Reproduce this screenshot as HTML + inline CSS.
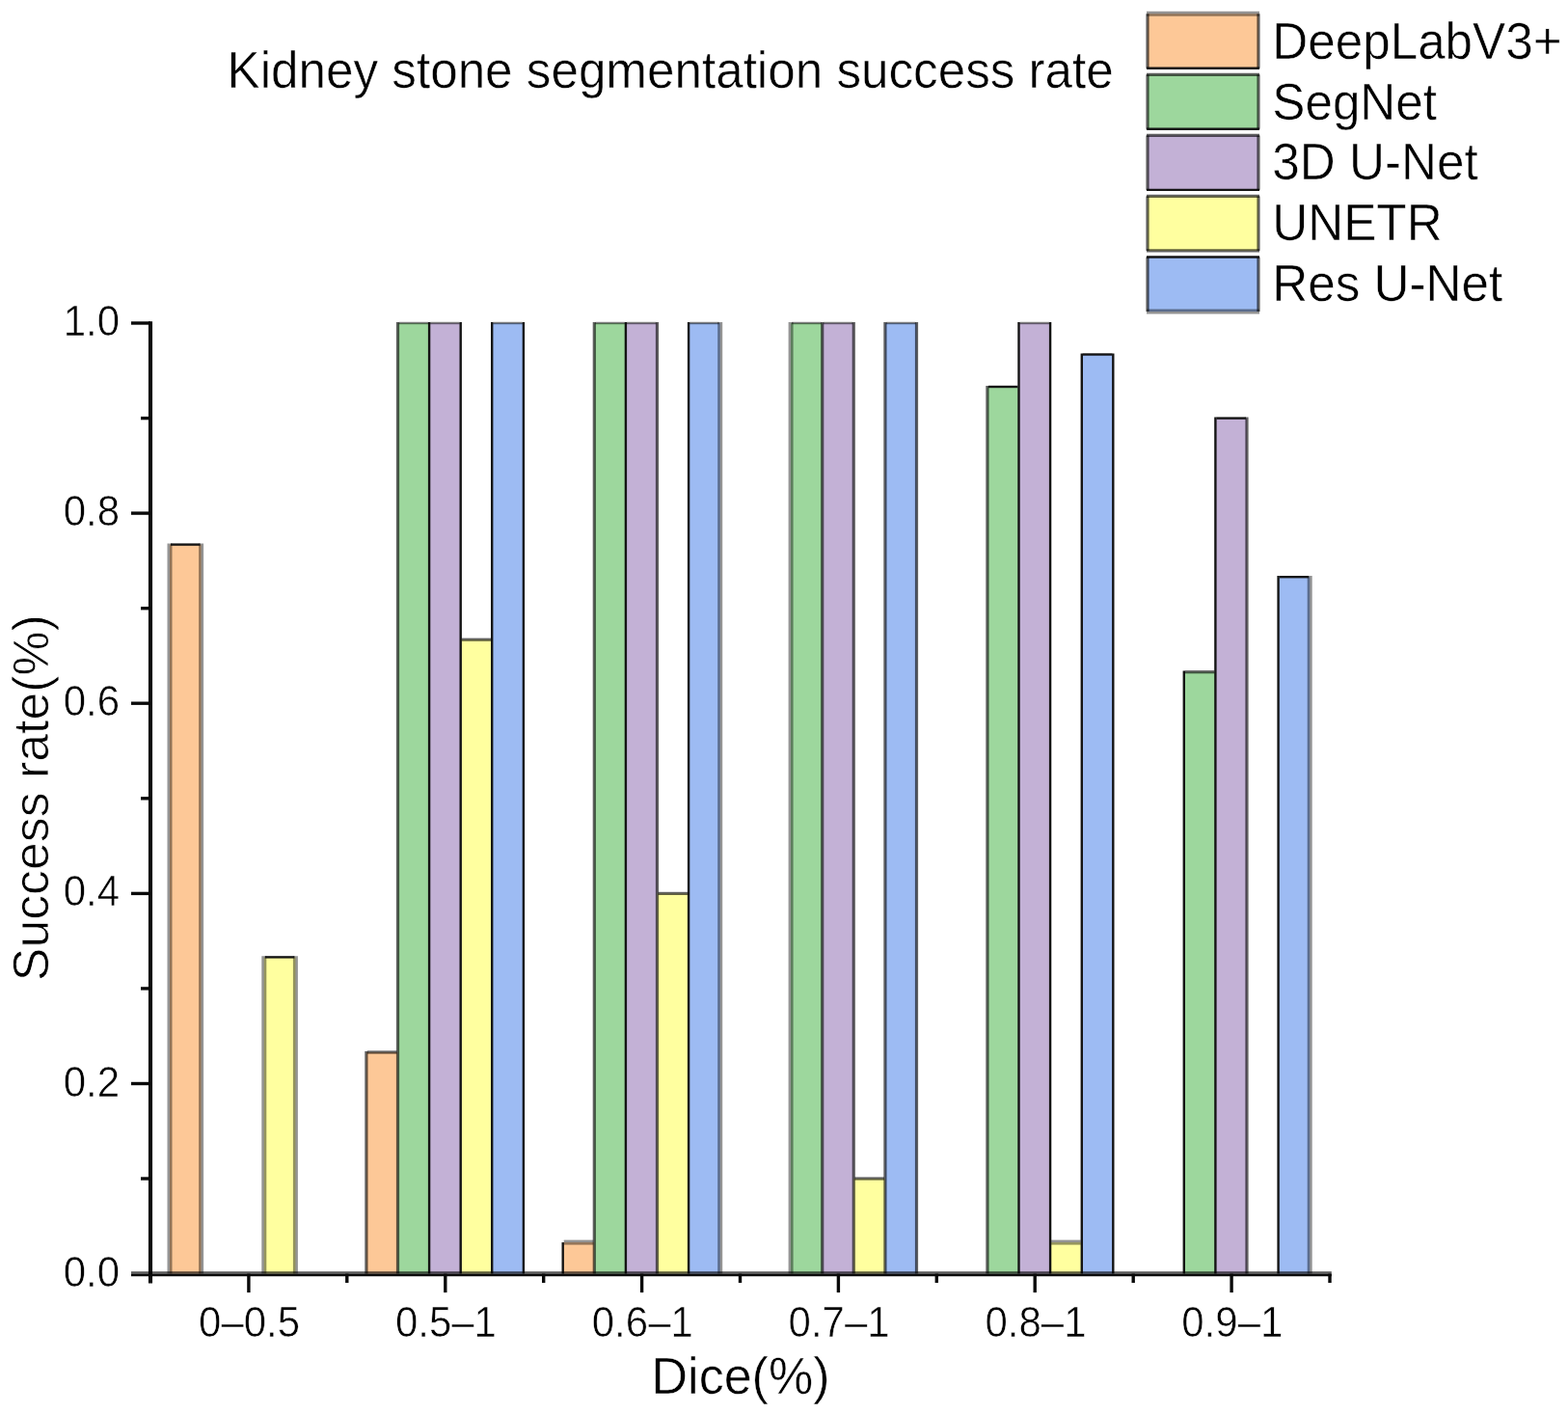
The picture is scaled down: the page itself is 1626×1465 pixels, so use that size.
<!DOCTYPE html>
<html lang="en"><head><meta charset="utf-8"><title>Kidney stone segmentation success rate</title>
<style>html,body{margin:0;padding:0;background:#fff;}body{width:1626px;height:1465px;overflow:hidden;}svg{display:block;filter:blur(0.55px);}text{font-family:"Liberation Sans",sans-serif;fill:#000;}</style>
</head><body>
<svg width="1626" height="1465" viewBox="0 0 1626 1465">
<rect x="0" y="0" width="1626" height="1465" fill="#fff"/>
<g stroke="none">
<rect x="176.0" y="564.6" width="32.6" height="756.0" fill="#fdc897"/>
<rect x="273.8" y="992.4" width="32.6" height="328.2" fill="#ffff9f"/>
<rect x="379.9" y="1091.0" width="32.6" height="229.6" fill="#fdc897"/>
<rect x="412.5" y="335.0" width="32.6" height="985.6" fill="#9dd79d"/>
<rect x="445.1" y="335.0" width="32.6" height="985.6" fill="#c3b1d6"/>
<rect x="477.7" y="663.2" width="32.6" height="657.4" fill="#ffff9f"/>
<rect x="510.2" y="335.0" width="32.6" height="985.6" fill="#9dbbf3"/>
<rect x="583.7" y="1288.1" width="32.6" height="32.5" fill="#fdc897"/>
<rect x="616.3" y="335.0" width="32.6" height="985.6" fill="#9dd79d"/>
<rect x="648.9" y="335.0" width="32.6" height="985.6" fill="#c3b1d6"/>
<rect x="681.5" y="926.4" width="32.6" height="394.2" fill="#ffff9f"/>
<rect x="714.1" y="335.0" width="32.6" height="985.6" fill="#9dbbf3"/>
<rect x="820.1" y="335.0" width="32.6" height="985.6" fill="#9dd79d"/>
<rect x="852.7" y="335.0" width="32.6" height="985.6" fill="#c3b1d6"/>
<rect x="885.3" y="1222.0" width="32.6" height="98.6" fill="#ffff9f"/>
<rect x="917.9" y="335.0" width="32.6" height="985.6" fill="#9dbbf3"/>
<rect x="1023.9" y="401.0" width="32.6" height="919.6" fill="#9dd79d"/>
<rect x="1056.5" y="335.0" width="32.6" height="985.6" fill="#c3b1d6"/>
<rect x="1089.1" y="1288.1" width="32.6" height="32.5" fill="#ffff9f"/>
<rect x="1121.8" y="367.5" width="32.6" height="953.1" fill="#9dbbf3"/>
<rect x="1227.8" y="696.7" width="32.6" height="623.9" fill="#9dd79d"/>
<rect x="1260.4" y="433.6" width="32.6" height="887.0" fill="#c3b1d6"/>
<rect x="1325.6" y="598.2" width="32.6" height="722.4" fill="#9dbbf3"/>
</g>
<g fill="none">
<path stroke="rgba(0,0,0,0.42)" stroke-width="5.0" d="M176.0 563.5 V1320.6"/>
<path stroke="rgba(0,0,0,0.42)" stroke-width="5.0" d="M208.6 563.5 V1320.6"/>
<path stroke="rgba(0,0,0,0.42)" stroke-width="5.0" d="M273.8 991.3 V1320.6"/>
<path stroke="rgba(0,0,0,0.42)" stroke-width="5.0" d="M306.4 991.3 V1320.6"/>
<path stroke="#141414" stroke-width="2.4" d="M177.0 564.6 H207.6"/>
<path stroke="#141414" stroke-width="2.4" d="M274.8 992.4 H305.4"/>
<path stroke="rgba(0,0,0,0.62)" stroke-width="3.2" d="M379.9 1089.9 V1320.6"/>
<path stroke="rgba(0,0,0,0.62)" stroke-width="3.2" d="M412.5 333.9 V1320.6"/>
<path stroke="#141414" stroke-width="2.4" d="M445.1 333.9 V1320.6"/>
<path stroke="#141414" stroke-width="2.4" d="M477.7 333.9 V1320.6"/>
<path stroke="#141414" stroke-width="2.4" d="M510.2 333.9 V1320.6"/>
<path stroke="#141414" stroke-width="2.4" d="M542.9 333.9 V1320.6"/>
<path stroke="rgba(0,0,0,0.62)" stroke-width="3.2" d="M380.9 1091.0 H411.5"/>
<path stroke="rgba(0,0,0,0.5)" stroke-width="2.4" d="M413.5 335.0 H444.1"/>
<path stroke="rgba(0,0,0,0.5)" stroke-width="2.4" d="M446.1 335.0 H476.7"/>
<path stroke="rgba(0,0,0,0.62)" stroke-width="3.2" d="M478.7 663.2 H509.3"/>
<path stroke="rgba(0,0,0,0.5)" stroke-width="2.4" d="M511.2 335.0 H541.9"/>
<path stroke="#141414" stroke-width="2.4" d="M583.7 1288.1 V1320.6"/>
<path stroke="rgba(0,0,0,0.62)" stroke-width="3.2" d="M616.3 333.9 V1320.6"/>
<path stroke="#141414" stroke-width="2.4" d="M648.9 333.9 V1320.6"/>
<path stroke="rgba(0,0,0,0.62)" stroke-width="3.2" d="M681.5 333.9 V1320.6"/>
<path stroke="#141414" stroke-width="2.4" d="M714.1 333.9 V1320.6"/>
<path stroke="rgba(0,0,0,0.42)" stroke-width="5.0" d="M746.7 333.9 V1320.6"/>
<path stroke="rgba(0,0,0,0.42)" stroke-width="5.0" d="M584.7 1288.1 H615.3"/>
<path stroke="rgba(0,0,0,0.5)" stroke-width="2.4" d="M617.3 335.0 H647.9"/>
<path stroke="rgba(0,0,0,0.5)" stroke-width="2.4" d="M649.9 335.0 H680.5"/>
<path stroke="rgba(0,0,0,0.62)" stroke-width="3.2" d="M682.5 926.4 H713.1"/>
<path stroke="rgba(0,0,0,0.5)" stroke-width="2.4" d="M715.1 335.0 H745.7"/>
<path stroke="rgba(0,0,0,0.42)" stroke-width="5.0" d="M820.1 333.9 V1320.6"/>
<path stroke="rgba(0,0,0,0.62)" stroke-width="3.2" d="M852.7 333.9 V1320.6"/>
<path stroke="rgba(0,0,0,0.62)" stroke-width="3.2" d="M885.3 333.9 V1320.6"/>
<path stroke="rgba(0,0,0,0.62)" stroke-width="3.2" d="M917.9 333.9 V1320.6"/>
<path stroke="rgba(0,0,0,0.62)" stroke-width="3.2" d="M950.5 333.9 V1320.6"/>
<path stroke="rgba(0,0,0,0.5)" stroke-width="2.4" d="M821.1 335.0 H851.7"/>
<path stroke="rgba(0,0,0,0.5)" stroke-width="2.4" d="M853.7 335.0 H884.3"/>
<path stroke="rgba(0,0,0,0.62)" stroke-width="3.2" d="M886.3 1222.0 H916.9"/>
<path stroke="rgba(0,0,0,0.5)" stroke-width="2.4" d="M918.9 335.0 H949.5"/>
<path stroke="rgba(0,0,0,0.62)" stroke-width="3.2" d="M1023.9 399.9 V1320.6"/>
<path stroke="#141414" stroke-width="2.4" d="M1056.5 333.9 V1320.6"/>
<path stroke="#141414" stroke-width="2.4" d="M1089.1 333.9 V1320.6"/>
<path stroke="#141414" stroke-width="2.4" d="M1121.8 366.4 V1320.6"/>
<path stroke="#141414" stroke-width="2.4" d="M1154.3 366.4 V1320.6"/>
<path stroke="#141414" stroke-width="2.4" d="M1024.9 401.0 H1055.5"/>
<path stroke="rgba(0,0,0,0.5)" stroke-width="2.4" d="M1057.5 335.0 H1088.1"/>
<path stroke="rgba(0,0,0,0.42)" stroke-width="5.0" d="M1090.1 1288.1 H1120.7"/>
<path stroke="#141414" stroke-width="2.4" d="M1122.8 367.5 H1153.3"/>
<path stroke="#141414" stroke-width="2.4" d="M1227.8 695.6 V1320.6"/>
<path stroke="#141414" stroke-width="2.4" d="M1260.4 432.5 V1320.6"/>
<path stroke="rgba(0,0,0,0.62)" stroke-width="3.2" d="M1293.0 432.5 V1320.6"/>
<path stroke="#141414" stroke-width="2.4" d="M1325.6 597.1 V1320.6"/>
<path stroke="rgba(0,0,0,0.42)" stroke-width="5.0" d="M1358.2 597.1 V1320.6"/>
<path stroke="rgba(0,0,0,0.62)" stroke-width="3.2" d="M1228.8 696.7 H1259.4"/>
<path stroke="#141414" stroke-width="2.4" d="M1261.4 433.6 H1292.0"/>
<path stroke="#141414" stroke-width="2.4" d="M1326.6 598.2 H1357.2"/>
</g>
<g stroke="#0a0a0a" stroke-width="4" fill="none">
<path stroke-width="4.1" d="M156.0 333.2 V1330.6"/>
<path stroke="rgba(0,0,0,0.64)" stroke-width="2.7" d="M136.0 1319.6 H1380.8"/>
<path stroke-width="2.3" d="M136.0 1322.1 H1380.8"/>
<path stroke-width="3.4" d="M146.0 1222.0 H156.0"/>
<path stroke-width="3.4" d="M136.0 1123.5 H156.0"/>
<path stroke-width="3.4" d="M146.0 1024.9 H156.0"/>
<path stroke-width="3.4" d="M136.0 926.4 H156.0"/>
<path stroke-width="3.4" d="M146.0 827.8 H156.0"/>
<path stroke-width="3.4" d="M136.0 729.2 H156.0"/>
<path stroke-width="3.4" d="M146.0 630.7 H156.0"/>
<path stroke-width="3.4" d="M136.0 532.1 H156.0"/>
<path stroke-width="3.4" d="M146.0 433.6 H156.0"/>
<path stroke-width="3.4" d="M136.0 335.0 H156.0"/>
<path stroke-width="3.4" d="M257.9 1320.6 V1340.1"/>
<path stroke-width="3.4" d="M359.8 1320.6 V1330.1"/>
<path stroke-width="3.4" d="M461.8 1320.6 V1340.1"/>
<path stroke-width="3.4" d="M563.7 1320.6 V1330.1"/>
<path stroke-width="3.4" d="M665.6 1320.6 V1340.1"/>
<path stroke-width="3.4" d="M767.5 1320.6 V1330.1"/>
<path stroke-width="3.4" d="M869.4 1320.6 V1340.1"/>
<path stroke-width="3.4" d="M971.3 1320.6 V1330.1"/>
<path stroke-width="3.4" d="M1073.2 1320.6 V1340.1"/>
<path stroke-width="3.4" d="M1175.2 1320.6 V1330.1"/>
<path stroke-width="3.4" d="M1277.1 1320.6 V1340.1"/>
<path stroke-width="3.4" d="M1379.0 1320.6 V1330.1"/>
</g>
<g font-size="42" text-anchor="end" stroke="#fff" stroke-width="0.55">
<text transform="translate(124 1333.6) scale(1 1.05)">0.0</text>
<text transform="translate(124 1136.5) scale(1 1.05)">0.2</text>
<text transform="translate(124 939.4) scale(1 1.05)">0.4</text>
<text transform="translate(124 742.2) scale(1 1.05)">0.6</text>
<text transform="translate(124 545.1) scale(1 1.05)">0.8</text>
<text transform="translate(124 348.0) scale(1 1.05)">1.0</text>
</g>
<g font-size="42" text-anchor="middle" stroke="#fff" stroke-width="0.55">
<text transform="translate(258.6 1386.1) scale(1 1.045)">0–0.5</text>
<text transform="translate(462.4 1386.1) scale(1 1.045)">0.5–1</text>
<text transform="translate(666.3 1386.1) scale(1 1.045)">0.6–1</text>
<text transform="translate(870.1 1386.1) scale(1 1.045)">0.7–1</text>
<text transform="translate(1074.0 1386.1) scale(1 1.045)">0.8–1</text>
<text transform="translate(1277.8 1386.1) scale(1 1.045)">0.9–1</text>
</g>
<text font-size="52" text-anchor="middle" stroke="#fff" stroke-width="0.5" transform="translate(768 1444.6) scale(1 1.02)">Dice(%)</text>
<text font-size="51.8" text-anchor="middle" stroke="#fff" stroke-width="0.8" transform="translate(49.8 827.2) rotate(-90) scale(1 0.99)">Success rate(%)</text>
<text font-size="51.2" stroke="#fff" stroke-width="0.5" transform="translate(235.6 90.8) scale(1 1.03)">Kidney stone segmentation success rate</text>
<g>
<rect x="1190.0" y="14.3" width="115.0" height="56.5" fill="#fdc897"/>
<path fill="none" stroke="rgba(0,0,0,0.42)" stroke-width="5.0" d="M1189.0 14.3 H1306.0"/>
<path fill="none" stroke="#141414" stroke-width="2.4" d="M1189.0 70.8 H1306.0"/>
<path fill="none" stroke="rgba(0,0,0,0.62)" stroke-width="3.2" d="M1190.0 14.3 V70.8"/>
<path fill="none" stroke="rgba(0,0,0,0.62)" stroke-width="3.2" d="M1305.0 14.3 V70.8"/>
<rect x="1190.0" y="77.3" width="115.0" height="56.5" fill="#9dd79d"/>
<path fill="none" stroke="rgba(0,0,0,0.62)" stroke-width="3.2" d="M1189.0 77.3 H1306.0"/>
<path fill="none" stroke="#141414" stroke-width="2.4" d="M1189.0 133.8 H1306.0"/>
<path fill="none" stroke="rgba(0,0,0,0.62)" stroke-width="3.2" d="M1190.0 77.3 V133.8"/>
<path fill="none" stroke="rgba(0,0,0,0.62)" stroke-width="3.2" d="M1305.0 77.3 V133.8"/>
<rect x="1190.0" y="140.4" width="115.0" height="56.5" fill="#c3b1d6"/>
<path fill="none" stroke="rgba(0,0,0,0.62)" stroke-width="3.2" d="M1189.0 140.4 H1306.0"/>
<path fill="none" stroke="#141414" stroke-width="2.4" d="M1189.0 196.9 H1306.0"/>
<path fill="none" stroke="rgba(0,0,0,0.62)" stroke-width="3.2" d="M1190.0 140.4 V196.9"/>
<path fill="none" stroke="rgba(0,0,0,0.62)" stroke-width="3.2" d="M1305.0 140.4 V196.9"/>
<rect x="1190.0" y="203.4" width="115.0" height="56.5" fill="#ffff9f"/>
<path fill="none" stroke="rgba(0,0,0,0.62)" stroke-width="3.2" d="M1189.0 203.4 H1306.0"/>
<path fill="none" stroke="rgba(0,0,0,0.62)" stroke-width="3.2" d="M1189.0 259.9 H1306.0"/>
<path fill="none" stroke="rgba(0,0,0,0.62)" stroke-width="3.2" d="M1190.0 203.4 V259.9"/>
<path fill="none" stroke="rgba(0,0,0,0.62)" stroke-width="3.2" d="M1305.0 203.4 V259.9"/>
<rect x="1190.0" y="266.5" width="115.0" height="56.5" fill="#9dbbf3"/>
<path fill="none" stroke="#141414" stroke-width="2.4" d="M1189.0 266.5 H1306.0"/>
<path fill="none" stroke="rgba(0,0,0,0.42)" stroke-width="5.0" d="M1189.0 323.0 H1306.0"/>
<path fill="none" stroke="rgba(0,0,0,0.62)" stroke-width="3.2" d="M1190.0 266.5 V323.0"/>
<path fill="none" stroke="rgba(0,0,0,0.62)" stroke-width="3.2" d="M1305.0 266.5 V323.0"/>
</g>
<g font-size="51.2" stroke="#fff" stroke-width="0.5">
<text transform="translate(1319.3 60.7) scale(1 1.04)">DeepLabV3+</text>
<text transform="translate(1319.3 123.5) scale(1 1.04)">SegNet</text>
<text transform="translate(1319.3 186.3) scale(1 1.04)">3D U-Net</text>
<text transform="translate(1319.3 249.1) scale(1 1.04)">UNETR</text>
<text transform="translate(1319.3 311.9) scale(1 1.04)">Res U-Net</text>
</g>
</svg>
</body></html>
